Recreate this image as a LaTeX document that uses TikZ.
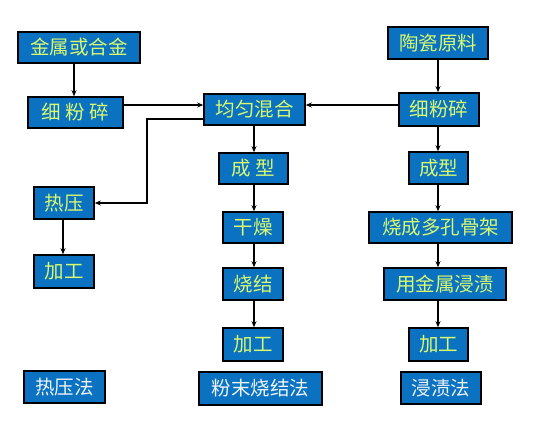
\documentclass[tikz,border=0pt]{standalone}
\usepackage{fontspec}
\setmainfont{Noto Sans CJK SC}
\usetikzlibrary{arrows.meta}
\definecolor{boxblue}{HTML}{0A72C0}
\definecolor{ytext}{HTML}{D8F870}
\definecolor{wtext}{HTML}{EEF4FA}
\begin{document}
\begin{tikzpicture}[x=1pt,y=-1pt,
  box/.style={draw=black,line width=1.6pt,fill=boxblue,text=ytext,inner sep=0pt,
    font=\fontsize{19.5}{20}\selectfont,anchor=center},
  lbl/.style={box,text=wtext},
  arr/.style={line width=1.3pt,-{Stealth[length=6pt,width=5pt]}}]
\useasboundingbox[fill=white] (0,0) rectangle (535,421);
% left column
\node[box,minimum width=122pt,minimum height=31pt] (jinshu) at (79,47.5) {金属或合金};
\node[box,minimum width=95pt,minimum height=31pt] (xifen1) at (75.5,112.5) {细 粉 碎};
\node[box,minimum width=60pt,minimum height=32pt] (rehe) at (64,203) {热压};
\node[box,minimum width=60pt,minimum height=33pt] (jiagong1) at (64,271.5) {加工};
\node[lbl,minimum width=81pt,minimum height=32pt] (reyafa) at (64.5,387) {热压法};
% middle column
\node[box,minimum width=101pt,minimum height=31pt] (junyun) at (254.5,109.5) {均匀混合};
\node[box,minimum width=69pt,minimum height=31pt] (cx1) at (253.5,168.5) {成 型};
\node[box,minimum width=60pt,minimum height=31pt] (ganzao) at (253,227.5) {干燥};
\node[box,minimum width=60pt,minimum height=32pt] (shaojie) at (253,284) {烧结};
\node[box,minimum width=60pt,minimum height=33pt] (jiagong2) at (253,344.5) {加工};
\node[lbl,minimum width=123pt,minimum height=33pt] (fenmo) at (260.5,388.5) {粉末烧结法};
% right column
\node[box,minimum width=100pt,minimum height=32pt] (taoci) at (438,43) {陶瓷原料};
\node[box,minimum width=80pt,minimum height=33pt] (xifen2) at (439,109.5) {细粉碎};
\node[box,minimum width=59pt,minimum height=32pt] (cx2) at (438.5,168) {成型};
\node[box,minimum width=143pt,minimum height=31pt] (shaocheng) at (440.5,227.5) {烧成多孔骨架};
\node[box,minimum width=122pt,minimum height=32pt] (yong) at (445,284) {用金属浸渍};
\node[box,minimum width=59pt,minimum height=33pt] (jiagong3) at (438.5,344.5) {加工};
\node[lbl,minimum width=80pt,minimum height=32pt] (jinzi) at (441,388) {浸渍法};
% connectors
\coordinate (bend) at (147,119);
\draw[arr] (jinshu.south -| 74,0) -- (xifen1.north -| 74,0);
\draw[arr] (xifen1.east |- 0,105) -- (junyun.west |- 0,105);
\draw[arr] (xifen2.west |- 0,105) -- (junyun.east |- 0,105);
\draw[arr] (junyun.west |- bend) -- (bend) |- (rehe.east);
\draw[arr] (rehe.south -| 63,0) -- (jiagong1.north -| 63,0);
\draw[arr] (junyun.south -| 254,0) -- (cx1.north -| 254,0);
\draw[arr] (cx1.south -| 254,0) -- (ganzao.north -| 254,0);
\draw[arr] (ganzao.south -| 254,0) -- (shaojie.north -| 254,0);
\draw[arr] (shaojie.south -| 254,0) -- (jiagong2.north -| 254,0);
\draw[arr] (taoci.south -| 438,0) -- (xifen2.north -| 438,0);
\draw[arr] (xifen2.south -| 438,0) -- (cx2.north -| 438,0);
\draw[arr] (cx2.south -| 438,0) -- (shaocheng.north -| 438,0);
\draw[arr] (shaocheng.south -| 438,0) -- (yong.north -| 438,0);
\draw[arr] (yong.south -| 438,0) -- (jiagong3.north -| 438,0);
\end{tikzpicture}
\end{document}
